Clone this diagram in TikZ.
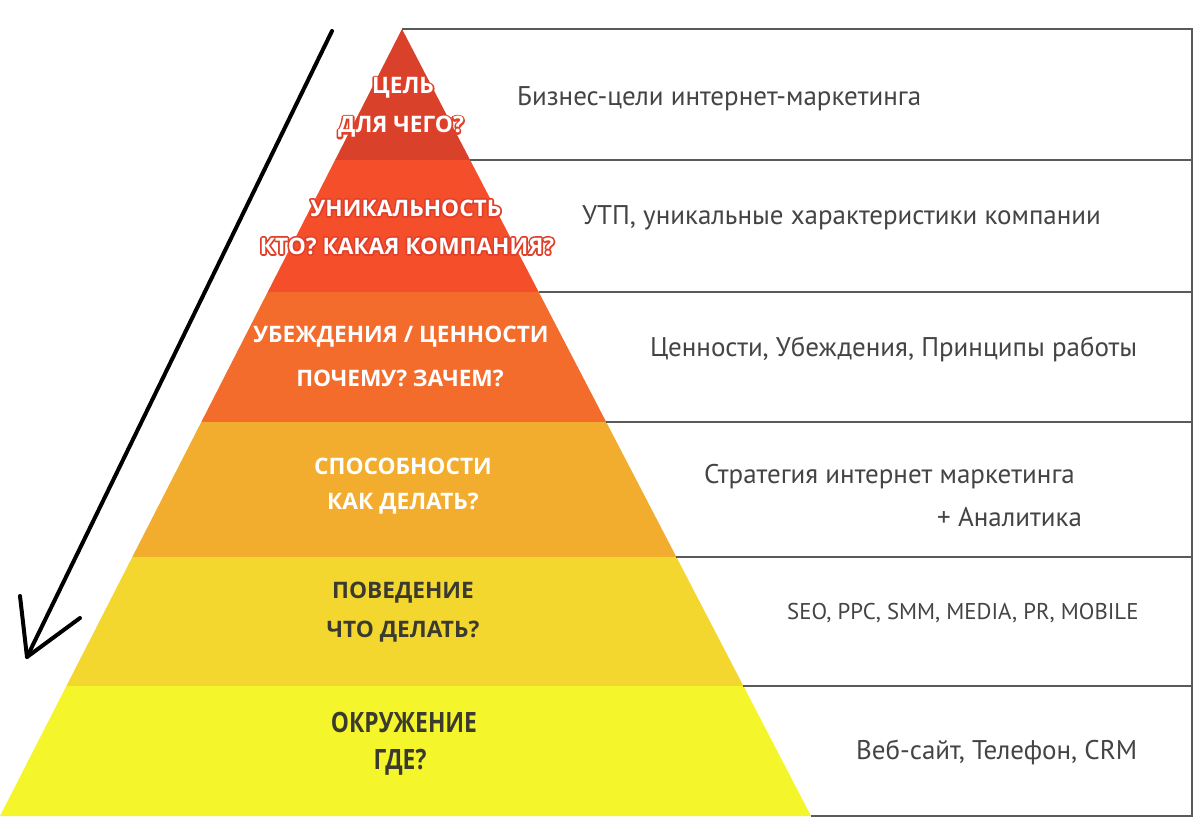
\documentclass[tikz,border=0pt]{standalone}
\usepackage{fontspec}
\setmainfont{Open Sans}
\newfontfamily\ptsans{PT Sans}
\newfontfamily\condfont[FakeStretch=0.815]{Open Sans}
\usetikzlibrary{calc}
\definecolor{bandA}{HTML}{D9412B}
\definecolor{bandB}{HTML}{F44F2A}
\definecolor{bandC}{HTML}{F36C2C}
\definecolor{bandD}{HTML}{F2AD2E}
\definecolor{bandE}{HTML}{F4D72E}
\definecolor{bandF}{HTML}{F4F52A}
\definecolor{halored}{HTML}{E0402A}
\definecolor{darktext}{HTML}{3A3A2E}
\definecolor{righttext}{HTML}{444444}
\definecolor{rule}{HTML}{5A5A5A}
\tikzset{
  lbl/.style={inner sep=0pt, font=\bfseries\fontsize{22.7}{26}\selectfont, anchor=center},
  condlbl/.style={inner sep=0pt, font=\condfont\bfseries\fontsize{28}{32}\selectfont, anchor=center, text=darktext},
  rtext/.style={inner sep=0pt, font=\ptsans\fontsize{27}{31}\selectfont, text=righttext, anchor=west},
  rsmall/.style={inner sep=0pt, font=\ptsans\fontsize{22.8}{26}\selectfont, text=righttext, anchor=west},
  ruleline/.style={draw=rule, line width=1.3pt},
  penline/.style={draw=black, line width=4pt, line cap=round, line join=round},
}
% red outlined copy (fill + stroke) used as a halo behind white text
\newcommand{\outlined}[1]{\special{pdf:literal direct 2 Tr 3.4 w 1 j 0.878 0.251 0.165 RG}#1\special{pdf:literal direct 0 Tr}}
\newcommand{\halonode}[3]{%
  \node[lbl,text=halored] at (#2) {\outlined{#3}};
  \node[lbl,text=white] (#1) at (#2) {#3};}
\begin{document}
\begin{tikzpicture}[x=1pt,y=-1pt]
\useasboundingbox (0,0) rectangle (1200,831);
\fill[white] (0,0) rectangle (1200,831);
% pyramid bands
\fill[bandA] (402,29) -- (470.1,160) -- (335.1,160) -- cycle;
\fill[bandB] (335.1,160) -- (470.1,160) -- (538.7,292) -- (267.7,292) -- cycle;
\fill[bandC] (267.7,292) -- (538.7,292) -- (606.2,422) -- (201.3,422) -- cycle;
\fill[bandD] (201.3,422) -- (606.2,422) -- (676.4,557) -- (132.3,557) -- cycle;
\fill[bandE] (132.3,557) -- (676.4,557) -- (743.4,686) -- (66.4,686) -- cycle;
\fill[bandF] (66.4,686) -- (743.4,686) -- (811,816) -- (0,816) -- cycle;
% table rules
\draw[ruleline] (402,29) -- (1192,29) -- (1192,816) -- (811,816);
\draw[ruleline] (470.1,160) -- (1192,160);
\draw[ruleline] (538.7,292) -- (1192,292);
\draw[ruleline] (606.2,422) -- (1192,422);
\draw[ruleline] (676.4,557) -- (1192,557);
\draw[ruleline] (743.4,686) -- (1192,686);
% labels
\halonode{l1a}{403,88}{ЦЕЛЬ}
\halonode{l1b}{401,127}{ДЛЯ ЧЕГО?}
\halonode{l2a}{406,208}{УНИКАЛЬНОСТЬ}
\halonode{l2b}{407,246}{КТО? КАКАЯ КОМПАНИЯ?}
\node[lbl,text=white] (l3a) at (401,337) {УБЕЖДЕНИЯ / ЦЕННОСТИ};
\node[lbl,text=white] (l3b) at (400,378) {ПОЧЕМУ? ЗАЧЕМ?};
\node[lbl,text=white] (l4a) at (403,466) {СПОСОБНОСТИ};
\node[lbl,text=white] (l4b) at (403,504) {КАК ДЕЛАТЬ?};
\node[lbl,text=darktext] (l5a) at (403,593) {ПОВЕДЕНИЕ};
\node[lbl,text=darktext] (l5b) at (403,632) {ЧТО ДЕЛАТЬ?};
\node[condlbl] (l6a) at (404,722) {ОКРУЖЕНИЕ};
\node[condlbl] (l6b) at (400,762) {ГДЕ?};
% right column
\node[rtext] (r1) at (517,99) {Бизнес-цели интернет-маркетинга};
\node[rtext] (r2) at (582,218) {УТП, уникальные характеристики компании};
\node[rtext] (r3) at (650,349) {Ценности, Убеждения, Принципы работы};
\node[rtext] (r4a) at (704,477) {Стратегия интернет маркетинга};
\node[rtext] (r4b) at (937,517) {+ Аналитика};
\node[rsmall] (r5) at (787,613) {SEO, PPC, SMM, MEDIA, PR, MOBILE};
\node[rtext] (r6) at (856,752) {Веб-сайт, Телефон, CRM};
% hand-drawn arrow
\coordinate (astart) at (332,31);
\coordinate (atip) at (27,657);
\coordinate (aleft) at (20,596);
\coordinate (aright) at (80,618);
\draw[penline] (astart) -- (atip);
\draw[penline] (aleft) -- (atip) -- (aright);
\end{tikzpicture}
\end{document}
